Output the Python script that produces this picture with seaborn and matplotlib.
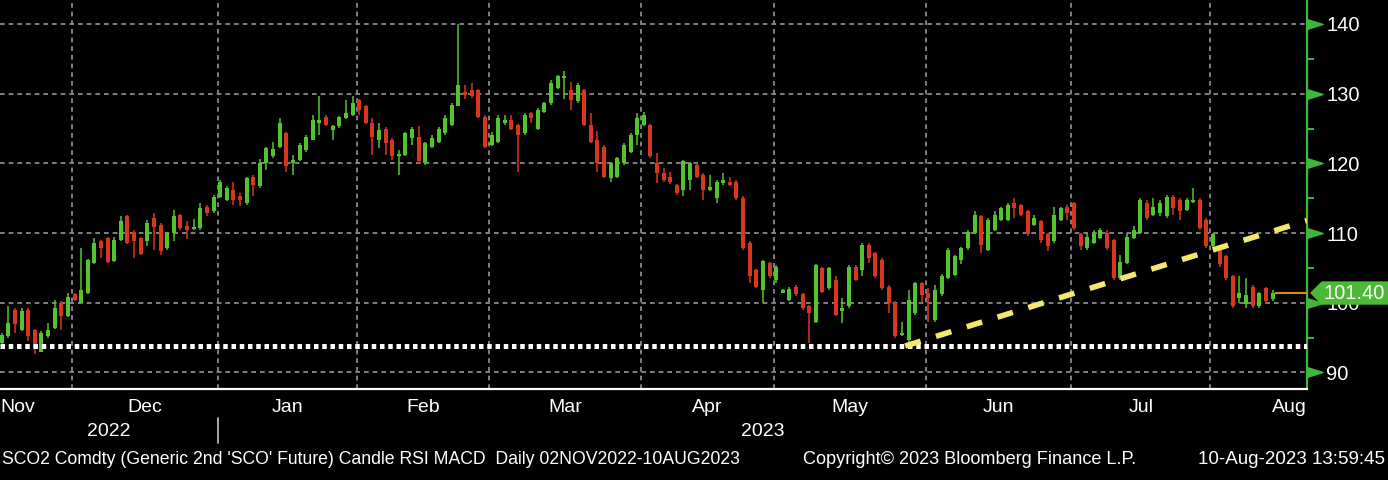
import numpy as np
import pandas as pd
import seaborn as sns
import matplotlib.pyplot as plt
import matplotlib.transforms as mtransforms
from matplotlib.patches import Polygon
from matplotlib.lines import Line2D

# daily candles, (open, high, low, close) per month
nov = [(94.2, 95.7, 94.0, 95.4), (95.2, 99.5, 95.0, 97.1), (99.0, 99.2, 95.7, 96.9),
       (96.1, 99.2, 96.0, 98.8), (99.0, 99.2, 94.5, 95.2), (96.1, 96.3, 92.7, 93.5),
       (93.0, 95.9, 92.9, 95.7), (95.2, 97.1, 95.0, 96.1), (96.4, 100.4, 96.3, 99.2),
       (100.0, 100.2, 96.1, 98.1), (98.1, 101.4, 98.0, 100.9)]
dec = [(101.2, 101.4, 100.2, 100.4), (100.0, 107.8, 99.9, 101.9), (101.4, 106.3, 101.2, 106.2),
       (105.7, 109.3, 105.5, 108.6), (108.8, 109.0, 106.4, 107.8), (109.3, 109.5, 105.7, 105.9),
       (106.0, 109.5, 105.8, 109.0), (109.0, 112.4, 108.8, 111.7), (112.4, 112.6, 108.4, 108.6),
       (110.2, 110.4, 106.4, 108.8), (109.3, 109.5, 106.9, 107.0), (108.8, 111.9, 108.1, 111.4),
       (112.1, 112.9, 107.6, 110.9), (111.2, 111.4, 106.9, 107.4), (107.8, 110.2, 107.6, 110.0),
       (110.0, 113.3, 108.8, 112.4), (112.6, 112.8, 110.5, 110.7), (111.0, 111.7, 109.2, 110.5),
       (110.6, 112.0, 110.4, 110.9), (110.7, 114.3, 110.5, 113.6), (113.8, 114.0, 112.4, 112.9),
       (113.1, 115.4, 112.9, 115.2)]
jan = [(115.2, 117.6, 115.0, 117.4), (114.8, 116.7, 114.6, 116.4), (116.2, 117.4, 114.1, 114.8),
       (115.3, 115.7, 113.9, 114.8), (114.3, 118.1, 114.1, 117.9), (118.1, 118.3, 115.3, 116.9),
       (116.7, 120.6, 116.5, 120.0), (120.0, 122.4, 119.1, 122.2), (121.0, 123.1, 120.8, 122.0),
       (122.4, 126.5, 122.2, 125.8), (124.3, 124.5, 118.8, 119.6), (120.0, 121.2, 118.4, 120.5),
       (120.5, 122.9, 120.3, 122.7), (121.9, 124.0, 121.7, 123.8), (123.4, 126.9, 123.4, 126.2),
       (125.8, 129.6, 124.1, 126.2), (126.7, 126.9, 125.3, 125.5), (124.8, 125.5, 123.4, 125.3),
       (125.3, 126.8, 125.1, 126.6), (126.5, 129.1, 126.3, 127.2), (127.0, 129.6, 126.8, 128.6)]
feb = [(129.1, 129.3, 127.0, 127.7), (128.2, 128.4, 125.6, 125.8), (125.8, 126.5, 121.2, 123.8),
       (123.4, 125.8, 122.2, 124.8), (125.0, 125.2, 121.2, 122.9), (123.4, 123.6, 120.5, 121.0),
       (121.0, 121.9, 118.4, 121.4), (121.2, 124.5, 121.0, 124.3), (123.6, 125.2, 122.7, 125.0),
       (123.8, 125.3, 120.1, 120.3), (120.0, 123.1, 119.8, 122.9), (122.4, 124.1, 122.2, 123.6),
       (123.1, 125.2, 122.9, 125.0), (124.3, 127.0, 124.1, 126.5), (125.5, 128.6, 125.3, 128.4),
       (128.3, 140.0, 128.2, 131.3), (130.3, 131.3, 129.3, 129.8), (130.5, 131.5, 129.4, 129.6),
       (130.5, 130.7, 126.5, 126.7), (126.7, 126.9, 122.2, 122.4)]
mar = [(122.7, 124.5, 122.5, 124.1), (123.1, 127.0, 122.9, 126.5), (125.8, 127.0, 125.5, 126.2),
       (126.2, 127.0, 124.8, 125.0), (125.5, 125.7, 118.7, 124.1), (124.3, 127.2, 124.1, 127.0),
       (127.2, 127.4, 125.8, 126.5), (125.0, 128.0, 124.8, 127.7), (127.4, 128.8, 127.2, 128.6),
       (128.6, 132.0, 128.4, 131.5), (130.8, 132.7, 130.6, 132.5), (132.2, 133.2, 129.3, 132.5),
       (130.5, 131.7, 127.7, 129.1), (128.9, 131.5, 128.7, 131.3), (130.5, 130.7, 125.3, 125.5),
       (125.5, 127.2, 122.9, 123.1), (123.4, 124.6, 118.8, 120.0), (122.4, 122.6, 117.9, 118.1),
       (117.9, 120.2, 117.4, 120.0), (118.1, 120.9, 117.9, 120.7), (120.0, 122.9, 119.8, 122.7),
       (121.7, 124.3, 121.5, 124.1), (124.1, 127.2, 122.7, 126.5)]
apr = [(125.5, 127.4, 125.3, 127.0), (125.5, 125.7, 120.8, 121.0), (120.0, 121.5, 117.2, 118.6),
       (118.6, 119.3, 117.4, 117.6), (118.1, 118.8, 117.0, 117.4), (116.9, 117.1, 115.5, 115.7),
       (116.2, 120.5, 115.3, 120.3), (117.6, 120.2, 116.2, 120.0), (119.8, 120.0, 117.9, 118.1),
       (118.4, 118.6, 114.8, 116.2), (116.2, 118.4, 116.0, 116.6), (115.0, 117.6, 114.3, 117.4),
       (117.2, 118.6, 116.9, 117.6), (117.4, 118.1, 116.7, 116.9), (117.4, 117.6, 114.8, 115.0),
       (115.0, 115.3, 107.6, 107.9), (108.6, 108.8, 102.8, 103.8), (104.7, 104.9, 102.1, 102.3),
       (101.9, 106.2, 100.0, 106.0), (105.7, 105.9, 103.6, 103.8)]
may = [(103.3, 105.4, 102.8, 105.2), (101.4, 102.0, 101.4, 101.9), (100.4, 102.3, 100.2, 102.0),
       (102.3, 102.6, 101.0, 101.2), (101.2, 101.4, 99.0, 99.2), (99.5, 99.7, 94.2, 98.5),
       (97.3, 105.6, 97.1, 105.4), (105.0, 105.2, 101.4, 101.6), (102.1, 105.2, 101.9, 105.0),
       (103.3, 103.8, 98.1, 98.3), (98.8, 100.7, 97.1, 99.2), (99.5, 105.4, 99.3, 105.2),
       (105.2, 105.4, 103.1, 103.3), (104.7, 108.6, 103.8, 108.3), (108.3, 108.6, 105.7, 106.4),
       (107.1, 107.3, 103.6, 103.8), (106.2, 106.4, 101.9, 102.1), (102.3, 102.6, 98.5, 100.0),
       (100.0, 100.2, 95.0, 95.2), (95.4, 97.3, 95.2, 95.7), (94.6, 101.9, 94.4, 100.4),
       (98.5, 103.0, 98.3, 102.8), (102.8, 103.0, 100.0, 101.1)]
jun = [(101.4, 102.1, 97.3, 100.7), (97.5, 102.6, 97.3, 101.9), (101.2, 104.1, 101.0, 103.8),
       (103.6, 107.8, 103.4, 107.6), (104.0, 106.9, 103.8, 106.7), (106.2, 108.0, 105.5, 107.8),
       (107.8, 110.4, 107.6, 110.2), (110.0, 113.1, 109.8, 112.6), (112.4, 112.6, 107.1, 108.3),
       (107.6, 112.1, 107.4, 111.9), (110.5, 113.1, 110.3, 112.6), (111.9, 113.8, 111.7, 113.6),
       (111.9, 114.3, 111.7, 114.0), (114.3, 115.0, 112.1, 113.6), (114.0, 114.2, 112.4, 112.6),
       (113.1, 113.3, 109.6, 109.8), (111.2, 112.6, 111.0, 112.1), (111.7, 111.9, 108.6, 109.0),
       (109.8, 110.0, 107.4, 108.1), (108.8, 113.8, 108.6, 112.6), (111.9, 113.8, 111.7, 113.6),
       (113.8, 114.1, 111.9, 112.9)]
jul = [(114.3, 114.5, 110.5, 110.7), (109.8, 110.0, 107.6, 108.1), (107.8, 110.0, 107.6, 109.5),
       (108.6, 110.5, 108.4, 109.8), (109.3, 110.7, 109.1, 110.5), (110.0, 110.5, 107.6, 107.8),
       (109.0, 109.2, 103.3, 103.5), (103.5, 106.9, 103.3, 105.9), (105.7, 110.0, 105.5, 109.5),
       (109.3, 111.0, 109.1, 110.5), (110.0, 115.0, 109.8, 114.8), (114.3, 114.8, 111.9, 112.1),
       (112.6, 115.0, 112.4, 113.8), (112.9, 114.8, 112.4, 114.3), (112.4, 115.5, 112.2, 115.2),
       (115.2, 115.5, 112.6, 113.6), (114.8, 115.0, 111.9, 113.1), (113.3, 115.0, 113.1, 114.8),
       (114.5, 116.4, 114.3, 114.8), (114.8, 115.0, 110.5, 110.7), (111.9, 112.1, 107.9, 108.1)]
aug = [(108.1, 110.0, 107.9, 109.8), (108.0, 108.3, 105.2, 105.5), (106.7, 106.9, 103.3, 103.6),
       (103.8, 104.0, 99.3, 99.5), (100.7, 103.8, 100.0, 101.4), (99.8, 103.6, 99.2, 101.1),
       (102.3, 102.6, 99.3, 99.5), (99.5, 101.6, 99.3, 101.4), (102.1, 102.3, 100.0, 100.2),
       (100.5, 101.9, 100.3, 101.4)]

months = ["Nov", "Dec", "Jan", "Feb", "Mar", "Apr", "May", "Jun", "Jul", "Aug"]
years = ["2022", "2023"]
support = 93.8                  # white dotted line
trend_x = [136.5, 197.2]        # yellow dashed trend line (bar index)
trend_y = [93.8, 111.8]
y_ticks = [90, 100, 110, 120, 130, 140]

rows = []
for m, vals in zip(months, [nov, dec, jan, feb, mar, apr, may, jun, jul, aug]):
    for o, h, l, c in vals:
        rows.append({"month": m, "open": o, "high": h, "low": l, "close": c})
df = pd.DataFrame(rows)
df["bar"] = np.arange(len(df))
df["up"] = df["close"] >= df["open"]

GREEN = "#52c42e"
RED = "#d9361f"
AXGREEN = "#3fb83a"

sns.set_theme(style="dark", rc={"axes.facecolor": "black", "figure.facecolor": "black",
                                "axes.edgecolor": "white", "text.color": "white"})
plt.rcParams["font.family"] = ["Liberation Sans", "DejaVu Sans"]

fig = plt.figure(figsize=(13.88, 4.80), dpi=100)
ax = fig.add_axes([0, 91 / 480, 1307 / 1388, 389 / 480])
ax.set_xlim(-0.26, 197.2)
ax.set_ylim(87.63, 143.44)

# grid
first_bar = df.groupby("month", sort=False)["bar"].min()
bounds = first_bar.values[1:] - 0.4
ax.set_xticks(bounds)
ax.set_xticklabels([])
ax.set_yticks(y_ticks)
ax.set_yticks([95, 105, 115, 125, 135], minor=True)
grid_kw = dict(color="#8a8a8a", lw=1.3, ls=(0, (2.6, 2.2)))
ax.yaxis.grid(True, which="major", **grid_kw)
ax.xaxis.grid(True, which="major", **grid_kw)
ax.set_axisbelow(True)

# candles
cols = np.where(df["up"], GREEN, RED)
ax.vlines(df["bar"], df["low"], df["high"], colors=cols, lw=1.1, zorder=3)
body_lo = df[["open", "close"]].min(axis=1)
body_h = (df["close"] - df["open"]).abs().clip(lower=0.2)
ax.bar(df["bar"], body_h, bottom=body_lo, width=0.6, color=cols, linewidth=0, zorder=4)

# support and trend line
ax.axhline(support, color="white", lw=3.6, ls=(0, (0.9, 0.75)), dash_capstyle="butt", zorder=5)
ax.plot(trend_x, trend_y, color="#f2e86c", lw=4, ls=(0, (2.9, 2.9)),
        dash_capstyle="butt", zorder=6)

# last price
last = df.iloc[-1]
ax.hlines(last["close"], last["bar"] + 0.4, 197.2, color="#e08a1e", lw=1.5, zorder=5)

# axes styling
for s in ["top", "left"]:
    ax.spines[s].set_visible(False)
ax.spines["right"].set_color(AXGREEN)
ax.spines["right"].set_linewidth(1.6)
ax.spines["bottom"].set_color("white")
ax.spines["bottom"].set_linewidth(1.6)
ax.yaxis.tick_right()
ax.tick_params(axis="y", which="major", length=0, pad=14, labelcolor="white", labelsize=14.5)
ax.tick_params(axis="y", which="minor", length=5, width=1.4, color=AXGREEN, direction="out")
ax.tick_params(axis="x", which="major", length=4.5, width=1.4, color="white", direction="out")

tri_tr = ax.get_yaxis_transform() + mtransforms.ScaledTranslation(0.075, 0, fig.dpi_scale_trans)
tri = [(-1, -0.62), (1, 0), (-1, 0.62), (-1, -0.62)]
ax.plot([1] * len(y_ticks), y_ticks, ls="none", marker=tri, ms=11, color=AXGREEN,
        transform=tri_tr, clip_on=False)

# price flag (covers the 100 label, as on the terminal)
fig.canvas.draw()
yf = fig.transFigure.inverted().transform(ax.transData.transform((0, last["close"])))[1]
W, H = 1388, 480
flag = Polygon([(1311 / W, yf), (1322 / W, yf + 11 / H), (1, yf + 11 / H),
                (1, yf - 11 / H), (1322 / W, yf - 11 / H)],
               closed=True, transform=fig.transFigure, color="#4dba36", zorder=10)
fig.add_artist(flag)
fig.text(1354 / W, yf, f"{last['close']:.2f}", color="white", fontsize=14.5,
         ha="center", va="center", zorder=11)

# month / year labels
xt = mtransforms.blended_transform_factory(ax.transData, fig.transFigure)
edges = list(first_bar.values - 0.4) + [197.2]
for i, m in enumerate(months):
    if i == 0:
        ax.text(-0.26, 0.152, m, transform=xt, ha="left", va="center", fontsize=14)
    elif i == len(months) - 1:
        ax.text(197.2, 0.152, m, transform=xt, ha="right", va="center", fontsize=14)
    else:
        ax.text((edges[i] + edges[i + 1]) / 2, 0.152, m, transform=xt,
                ha="center", va="center", fontsize=14)
jan_edge = edges[2]
ax.text((-0.26 + jan_edge) / 2, 0.101, years[0], transform=xt, ha="center", va="center", fontsize=14)
ax.text((jan_edge + 197.2) / 2, 0.101, years[1], transform=xt, ha="center", va="center", fontsize=14)
fig.add_artist(Line2D([jan_edge, jan_edge], [0.077, 0.129], transform=xt, color="#b5b5b5", lw=1.3))

# footer
fig.text(2 / W, 0.042, "SCO2 Comdty (Generic 2nd 'SCO' Future) Candle RSI MACD  Daily 02NOV2022-10AUG2023",
         ha="left", va="center", fontsize=12.7, color="white")
fig.text(803 / W, 0.042, "Copyright\u00a9 2023 Bloomberg Finance L.P.", ha="left", va="center",
         fontsize=13.1, color="white")
fig.text(1385 / W, 0.042, "10-Aug-2023 13:59:45", ha="right", va="center", fontsize=13.5, color="white")

fig.savefig("out.png", dpi=100, facecolor="black")
